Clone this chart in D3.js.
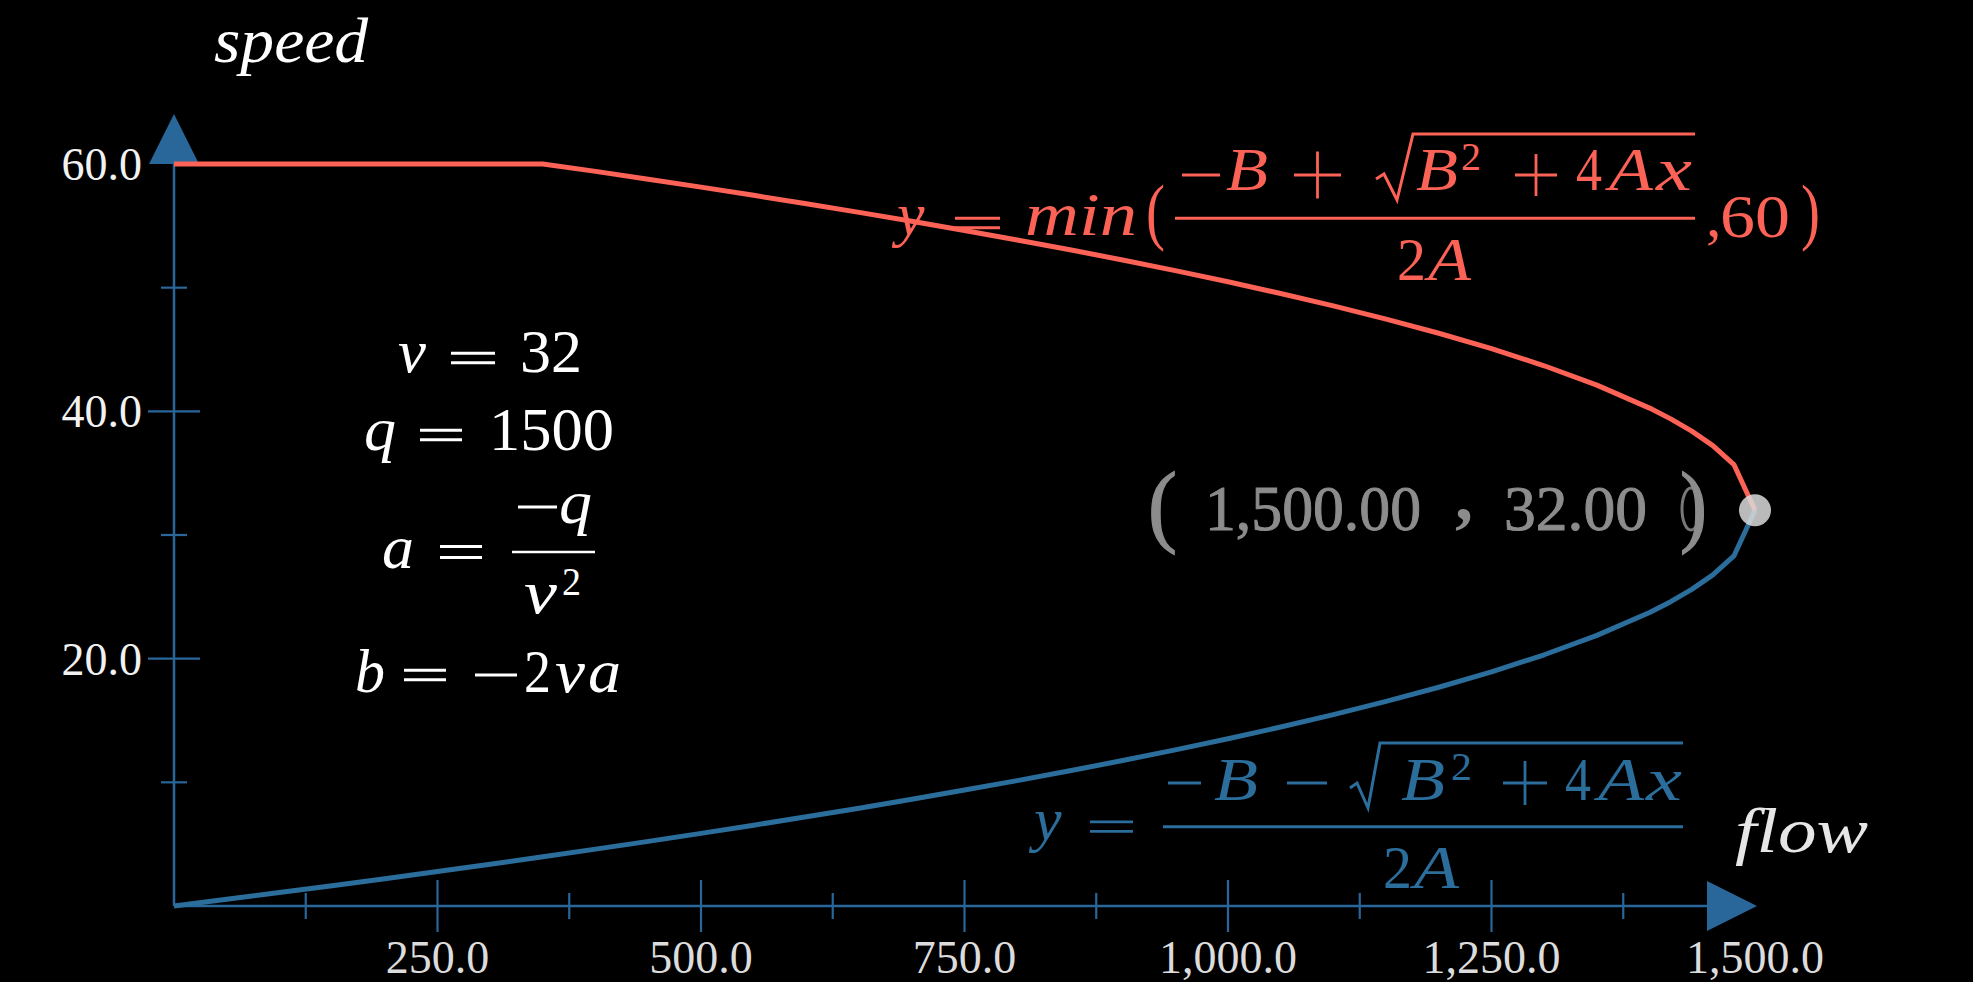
<!DOCTYPE html>
<html>
<head>
<meta charset="utf-8">
<script src="https://cdn.jsdelivr.net/npm/d3@7"></script>
<style>
  html, body { margin: 0; padding: 0; background: #000; }
  svg { display: block; }
</style>
</head>
<body>
<svg id="chart" width="1973" height="982"></svg>
<script>
// ---------- data ----------
const flowSamples = [0, 50, 100, 150, 200, 250, 300, 350, 400, 450, 500, 550, 600, 650, 700,
  750, 800, 850, 900, 950, 1000, 1050, 1100, 1150, 1200, 1250, 1300, 1350, 1400,
  1420, 1440, 1460, 1480, 1500];
const upperSpeed = [60, 60, 60, 60, 60, 60, 60, 60, 59.403, 58.773, 58.128, 57.466, 56.787, 56.089, 55.370,
  54.627, 53.860, 53.065, 52.239, 51.377, 50.475, 49.527, 48.525, 47.457, 46.311, 45.064, 43.685, 42.119, 40.262,
  39.390, 38.400, 37.226, 35.695, 32];
const lowerSpeed = [0, 0.538, 1.085, 1.642, 2.210, 2.788, 3.378, 3.981, 4.597, 5.227, 5.872, 6.534, 7.213, 7.911, 8.630,
  9.373, 10.140, 10.935, 11.761, 12.623, 13.525, 14.473, 15.475, 16.543, 17.689, 18.936, 20.315, 21.881, 23.738,
  24.610, 25.600, 26.774, 28.305, 32];
const xMajorTicks = [250, 500, 750, 1000, 1250];
const xMinorTicks = [125, 375, 625, 875, 1125, 1375];
const xTickLabels = [250, 500, 750, 1000, 1250, 1500];
const yMajorTicks = [20, 40];
const yMinorTicks = [10, 30, 50];
const yTickLabels = [20, 40, 60];
const pointFlow = 1500, pointSpeed = 32;
const paramLines = ["v = 32", "q = 1500", "a = −q/v²", "b = −2va"];

// ---------- setup ----------
const svg = d3.select("#chart");
svg.append("rect").attr("width", 1973).attr("height", 982).attr("fill", "#000");

const x = d3.scaleLinear().domain([0, 1500]).range([174, 1755]);
const y = d3.scaleLinear().domain([0, 60]).range([906, 164]);

const AXIS = "#29669a";
const BLUE = "#2b6d9b";
const RED = "#fc6255";
const FONT = "'Liberation Serif', 'DejaVu Serif', serif";

// ---------- axes ----------
const ax = svg.append("g");
ax.append("line").attr("x1", x(0)).attr("x2", x(1500) - 40).attr("y1", y(0)).attr("y2", y(0))
  .attr("stroke", AXIS).attr("stroke-width", 2.5);
ax.append("line").attr("x1", x(0)).attr("x2", x(0)).attr("y1", y(0)).attr("y2", y(60))
  .attr("stroke", AXIS).attr("stroke-width", 2.5);
ax.append("path")
  .attr("d", `M${x(1500) - 48},${y(0) - 25} L${x(1500) + 2},${y(0)} L${x(1500) - 48},${y(0) + 25} Z`)
  .attr("fill", AXIS);
ax.append("path")
  .attr("d", `M${x(0) - 25},${y(60)} L${x(0)},${y(60) - 50} L${x(0) + 25},${y(60)} Z`)
  .attr("fill", AXIS);
ax.selectAll(".xmaj").data(xMajorTicks).join("line")
  .attr("x1", d => x(d)).attr("x2", d => x(d)).attr("y1", y(0) - 26).attr("y2", y(0) + 26)
  .attr("stroke", AXIS).attr("stroke-width", 2.2);
ax.selectAll(".xmin").data(xMinorTicks).join("line")
  .attr("x1", d => x(d)).attr("x2", d => x(d)).attr("y1", y(0) - 13).attr("y2", y(0) + 13)
  .attr("stroke", AXIS).attr("stroke-width", 2.2);
ax.selectAll(".ymaj").data(yMajorTicks).join("line")
  .attr("y1", d => y(d)).attr("y2", d => y(d)).attr("x1", x(0) - 26).attr("x2", x(0) + 26)
  .attr("stroke", AXIS).attr("stroke-width", 2.2);
ax.selectAll(".ymin").data(yMinorTicks).join("line")
  .attr("y1", d => y(d)).attr("y2", d => y(d)).attr("x1", x(0) - 13).attr("x2", x(0) + 13)
  .attr("stroke", AXIS).attr("stroke-width", 2.2);
const fmt = d3.format(",.1f");
ax.selectAll(".xlab").data(xTickLabels).join("text")
  .attr("x", d => x(d)).attr("y", y(0) + 67)
  .attr("text-anchor", "middle").attr("font-family", FONT).attr("font-size", 46)
  .attr("fill", "#dcdcdc").text(d => fmt(d));
ax.selectAll(".ylab").data(yTickLabels).join("text")
  .attr("x", x(0) - 32).attr("y", d => y(d) + 16)
  .attr("text-anchor", "end").attr("font-family", FONT).attr("font-size", 46)
  .attr("fill", "#f2f2f2").text(d => fmt(d));

svg.append("text").attr("x", 214).attr("y", 62).attr("font-family", FONT).attr("font-style", "italic")
  .attr("font-size", 64).attr("fill", "#ffffff").attr("textLength", 154).attr("lengthAdjust", "spacingAndGlyphs")
  .text("speed");
svg.append("text").attr("x", 1735).attr("y", 852).attr("font-family", FONT).attr("font-style", "italic")
  .attr("font-size", 64).attr("fill", "#e6e6e6").attr("textLength", 133).attr("lengthAdjust", "spacingAndGlyphs")
  .text("flow");

// ---------- curves ----------
const pts = (ys) => flowSamples.map((f, i) => [f, ys[i]]);
const line = d3.line().x(d => x(d[0])).y(d => y(d[1])).curve(d3.curveLinear);
svg.append("path").attr("d", line(pts(lowerSpeed))).attr("fill", "none")
  .attr("stroke", BLUE).attr("stroke-width", 5).attr("stroke-linejoin", "round");
svg.append("path").attr("d", line(pts(upperSpeed))).attr("fill", "none")
  .attr("stroke", RED).attr("stroke-width", 5).attr("stroke-linejoin", "round");

// ---------- formula helpers ----------
function T(g, s, px, py, o = {}) {
  const t = g.append("text").attr("x", px).attr("y", py)
    .attr("font-family", FONT).attr("font-size", o.size || 62)
    .attr("fill", o.color || "#fff").text(s);
  if (o.italic) t.attr("font-style", "italic");
  if (o.bold) t.attr("font-weight", "bold");
  if (o.anchor) t.attr("text-anchor", o.anchor);
  if (o.len) t.attr("textLength", o.len).attr("lengthAdjust", "spacingAndGlyphs");
  if (o.opacity != null) t.attr("opacity", o.opacity);
  if (o.stroke) t.attr("stroke", o.color || "#fff").attr("stroke-width", o.stroke);
  return t;
}
function H(g, x1, x2, cy, color, w = 2.8) {
  g.append("line").attr("x1", x1).attr("x2", x2).attr("y1", cy).attr("y2", cy)
    .attr("stroke", color).attr("stroke-width", w);
}
function EQ(g, x1, x2, cy, color, gap = 9.5) { H(g, x1, x2, cy - gap / 2, color); H(g, x1, x2, cy + gap / 2, color); }
function PLUS(g, x1, x2, cy, color) {
  const cx = (x1 + x2) / 2, h = (x2 - x1) / 2;
  H(g, x1, x2, cy, color);
  g.append("line").attr("x1", cx).attr("x2", cx).attr("y1", cy - h).attr("y2", cy + h)
    .attr("stroke", color).attr("stroke-width", 2.8);
}
function SQRT(g, p, color) {
  g.append("path").attr("d", p).attr("fill", "none").attr("stroke", color)
    .attr("stroke-width", 3).attr("stroke-linejoin", "miter");
}

// ---------- red formula (upper branch) ----------
const fr = svg.append("g");
const rc = { color: RED };
T(fr, "y", 897, 235, { ...rc, italic: true });
EQ(fr, 955, 1000, 223, RED);
T(fr, "min", 1025, 235, { ...rc, italic: true, len: 112 });
T(fr, "(", 1146, 236, { ...rc, size: 74, len: 19 });
H(fr, 1175, 1695, 218.3, RED, 3);
H(fr, 1182, 1220, 175, RED);
T(fr, "B", 1226, 190, { ...rc, italic: true, len: 42 });
PLUS(fr, 1294, 1341, 175, RED);
SQRT(fr, "M1376,179 L1384,174 L1397,200 L1413,134 L1695,134", RED);
T(fr, "B", 1416, 190, { ...rc, italic: true, len: 42 });
T(fr, "2", 1461, 170, { ...rc, size: 40, len: 20 });
PLUS(fr, 1515, 1557, 175, RED);
T(fr, "4", 1576, 190, { ...rc, len: 26 });
T(fr, "A", 1609, 190, { ...rc, italic: true, len: 44 });
T(fr, "x", 1656, 190, { ...rc, italic: true, len: 36 });
T(fr, "2", 1397, 280, { ...rc, len: 29 });
T(fr, "A", 1428, 280, { ...rc, italic: true, len: 43 });
T(fr, ",", 1706, 236, rc);
T(fr, "60", 1720, 237, { ...rc, len: 70 });
T(fr, ")", 1801, 236, { ...rc, size: 74, len: 19 });

// ---------- blue formula (lower branch) ----------
const fb = svg.append("g");
const bc = { color: BLUE };
T(fb, "y", 1034, 840, { ...bc, italic: true });
EQ(fb, 1090, 1133, 826.7, BLUE);
H(fb, 1163, 1683, 826.7, BLUE, 3);
H(fb, 1168, 1201, 783, BLUE);
T(fb, "B", 1214, 800, { ...bc, italic: true, len: 44 });
H(fb, 1287, 1327, 783, BLUE);
SQRT(fb, "M1350,788 L1357,783 L1368,808 L1380,743 L1683,743", BLUE);
T(fb, "B", 1401, 800, { ...bc, italic: true, len: 44 });
T(fb, "2", 1451, 780, { ...bc, size: 40, len: 21 });
PLUS(fb, 1503, 1547, 783, BLUE);
T(fb, "4", 1565, 800, { ...bc, len: 26 });
T(fb, "A", 1598, 800, { ...bc, italic: true, len: 46 });
T(fb, "x", 1646, 800, { ...bc, italic: true, len: 36 });
T(fb, "2", 1383, 888, { ...bc, len: 29 });
T(fb, "A", 1414, 888, { ...bc, italic: true, len: 45 });

// ---------- parameter block ----------
const pb = svg.append("g").attr("data-lines", paramLines.join(" | "));
const W = "#ffffff";
T(pb, "v", 398, 372, { italic: true, len: 28 });
EQ(pb, 451, 495, 358, W);
T(pb, "32", 520, 372, { len: 62 });
T(pb, "q", 364, 450, { italic: true, len: 32 });
EQ(pb, 420, 462, 435, W);
T(pb, "1500", 489, 450, { len: 125 });
T(pb, "a", 382, 568, { italic: true, len: 32 });
EQ(pb, 440, 482, 552, W, 11);
H(pb, 512, 595, 552, W, 2.6);
H(pb, 518, 557, 507, W);
T(pb, "q", 559, 523, { italic: true, len: 33 });
T(pb, "v", 524, 613, { italic: true, len: 33 });
T(pb, "2", 562, 595, { size: 40, len: 19 });
T(pb, "b", 355, 692, { italic: true, len: 30 });
EQ(pb, 404, 446, 675, W);
H(pb, 475, 517, 675, W);
T(pb, "2", 524, 692, { len: 27 });
T(pb, "v", 555, 692, { italic: true, len: 30 });
T(pb, "a", 588, 692, { italic: true, len: 33 });

// ---------- highlighted point ----------
const GREY = "#8c8c8c";
const pl = svg.append("g");
T(pl, "(", 1148, 535, { color: GREY, size: 90, len: 29, stroke: 1.4 });
T(pl, d3.format(",.2f")(pointFlow), 1205, 530, { color: GREY, size: 64, len: 216, stroke: 1 });
T(pl, ",", 1455, 520, { color: GREY, size: 72, bold: true });
T(pl, d3.format(",.2f")(pointSpeed), 1504, 530, { color: GREY, size: 64, len: 143, stroke: 1 });
// leftover half-drawn "0" glyph under the closing parenthesis (animation artefact)
pl.append("ellipse").attr("cx", 1691).attr("cy", 509).attr("rx", 9).attr("ry", 21)
  .attr("fill", "none").attr("stroke", GREY).attr("stroke-width", 3).attr("opacity", 0.85);
T(pl, ")", 1680, 535, { color: GREY, size: 90, len: 27, stroke: 1.4 });
svg.append("circle").attr("cx", x(pointFlow)).attr("cy", y(pointSpeed)).attr("r", 16)
  .attr("fill", "#dadada").attr("opacity", 0.85);
</script>
</body>
</html>
